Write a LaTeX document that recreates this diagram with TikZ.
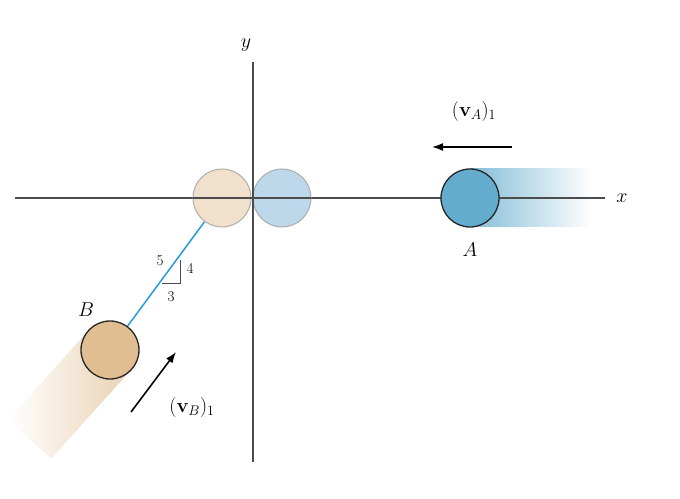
\documentclass[tikz,border=0pt]{standalone}
\usepackage{fix-cm}
\usetikzlibrary{arrows.meta}
\begin{document}
\begin{tikzpicture}[x=1pt,y=1pt,
  lbl/.style={font=\fontsize{20}{22}\selectfont},
  sml/.style={font=\fontsize{15}{17}\selectfont},
  axis/.style={draw=black!70,line width=1.6pt},
  vec/.style={-{Latex[length=11pt,width=8pt]},line width=1.6pt}]
\definecolor{tanC}{RGB}{224,190,145}
\definecolor{tanG}{RGB}{240,222,198}
\definecolor{bluG}{RGB}{182,212,232}
\definecolor{bluA}{RGB}{100,172,205}
\useasboundingbox (0,0) rectangle (680,498);
% streaks
\shade[left color=bluA!80,right color=white] (470,271) rectangle (592,329);
\begin{scope}[shift={(110,148)},rotate=228]
\shade[left color=white,right color=tanC!70] (0,-29) rectangle (120,29);
\end{scope}
\draw[axis] (15,300) -- (605,300);
\draw[axis] (253,436) -- (253,36);
\node[lbl] (ylab) at (246,453) {$y$};
\node[lbl] (xlab) at (622,300) {$x$};
\node[circle,minimum size=58pt,fill=tanG,draw=black!35,line width=1pt,opacity=0.9] (gT) at (222,300) {};
\node[circle,minimum size=58pt,fill=bluG,draw=black!35,line width=1pt,opacity=0.9] (gB) at (282,300) {};
\draw[axis] (253,270) -- (253,330);
\draw[axis] (193,300) -- (311,300);
\node[circle,minimum size=58pt,fill=bluA,draw=black!85,line width=1.3pt] (A) at (470,300) {};
\node[lbl] (Alab) at (470,248) {$A$};
\node[circle,minimum size=58pt,fill=tanC,draw=black!85,line width=1.3pt] (B) at (110,148) {};
\node[lbl] (Blab) at (86,188) {$B$};
\draw[cyan!80!blue!90,line width=1.5pt] (B) -- (gT);
\draw[black!70,line width=0.8pt] (180,238) -- (180,215) -- (162,215);
\node[sml] (n5) at (160,237) {5};
\node[sml] (n4) at (190,230) {4};
\node[sml] (n3) at (171,201) {3};
\coordinate (vas) at (512,351); \coordinate (vae) at (432,351);
\draw[vec] (vas) -- (vae);
\node[lbl] (vAl) at (474,386) {$(\mathbf{v}_A)_1$};
\coordinate (vbs) at (131,86); \coordinate (vbe) at (176,146);
\draw[vec] (vbs) -- (vbe);
\node[lbl] (vBl) at (192,90) {$(\mathbf{v}_B)_1$};
\end{tikzpicture}
\end{document}
